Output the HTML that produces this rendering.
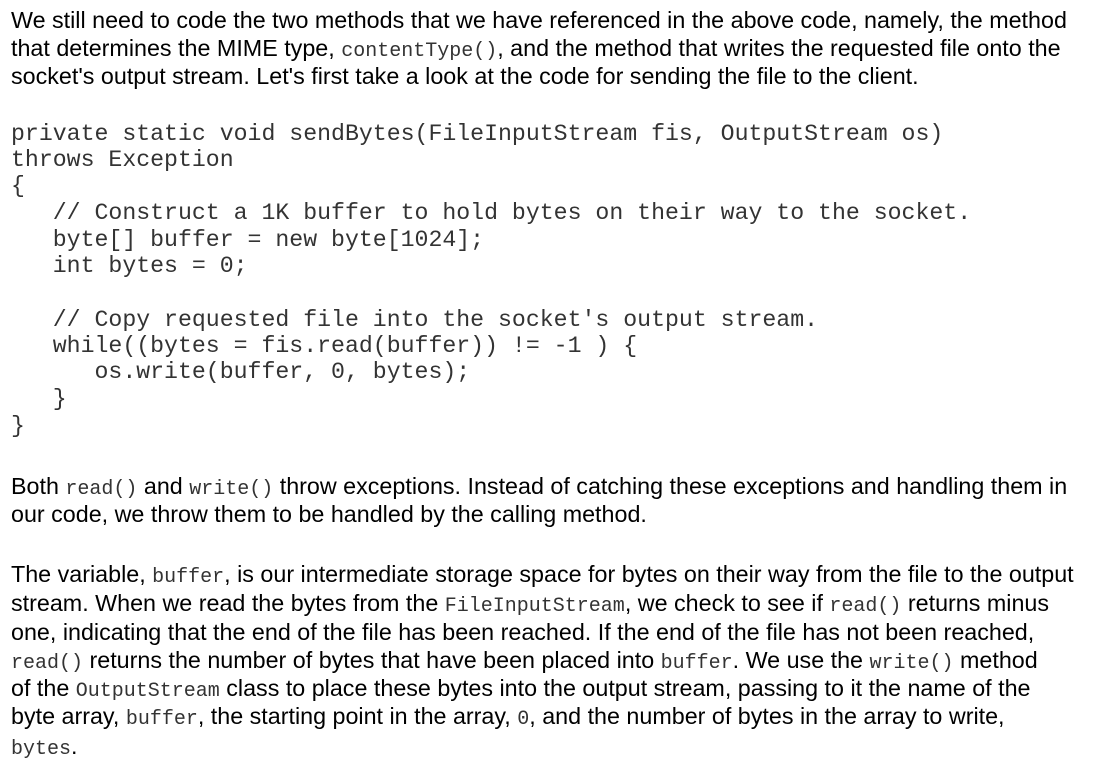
<!DOCTYPE html>
<html><head><meta charset="utf-8"><style>
body{margin:0;background:#fff;width:1102px;height:766px;position:relative;overflow:hidden;color:#000}
.t{position:absolute;left:11px;white-space:nowrap;font-family:"Liberation Sans",Arial,sans-serif;font-size:23.3px;line-height:28px;height:28px}
.t code{font-family:"Liberation Mono","Courier New",monospace;font-size:20px;color:#333}
.c{position:absolute;left:11px;white-space:pre;font-family:"Liberation Mono","Courier New",monospace;font-size:23.2px;line-height:26px;height:26px;color:#333}
</style></head><body>
<div class="t" style="top:6px">We still need to code the two methods that we have referenced in the above code, namely, the method</div>
<div class="t" style="top:34px">that determines the MIME type, <code>contentType()</code>, and the method that writes the requested file onto the</div>
<div class="t" style="top:62px">socket's output stream. Let's first take a look at the code for sending the file to the client.</div>

<div class="c" style="top:121px">private static void sendBytes(FileInputStream fis, OutputStream os)</div>
<div class="c" style="top:147px">throws Exception</div>
<div class="c" style="top:173px">{</div>
<div class="c" style="top:200px">   // Construct a 1K buffer to hold bytes on their way to the socket.</div>
<div class="c" style="top:227px">   byte[] buffer = new byte[1024];</div>
<div class="c" style="top:253px">   int bytes = 0;</div>
<div class="c" style="top:307px">   // Copy requested file into the socket's output stream.</div>
<div class="c" style="top:333px">   while((bytes = fis.read(buffer)) != -1 ) {</div>
<div class="c" style="top:359px">      os.write(buffer, 0, bytes);</div>
<div class="c" style="top:386px">   }</div>
<div class="c" style="top:413px">}</div>

<div class="t" style="top:472px">Both <code>read()</code> and <code>write()</code> throw exceptions. Instead of catching these exceptions and handling them in</div>
<div class="t" style="top:500px">our code, we throw them to be handled by the calling method.</div>

<div class="t" style="top:560px">The variable, <code>buffer</code>, is our intermediate storage space for bytes on their way from the file to the output</div>
<div class="t" style="top:589px">stream. When we read the bytes from the <code>FileInputStream</code>, we check to see if <code>read()</code> returns minus</div>
<div class="t" style="top:618px">one, indicating that the end of the file has been reached. If the end of the file has not been reached,</div>
<div class="t" style="top:646px"><code>read()</code> returns the number of bytes that have been placed into <code>buffer</code>. We use the <code>write()</code> method</div>
<div class="t" style="top:674px">of the <code>OutputStream</code> class to place these bytes into the output stream, passing to it the name of the</div>
<div class="t" style="top:702px">byte array, <code>buffer</code>, the starting point in the array, <code>0</code>, and the number of bytes in the array to write,</div>
<div class="t" style="top:732px"><code>bytes</code>.</div>
</body></html>
